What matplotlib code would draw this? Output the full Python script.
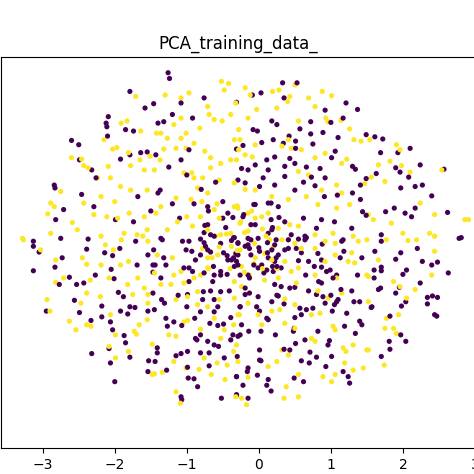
import matplotlib
matplotlib.use("Agg")
import matplotlib.pyplot as plt
import numpy as np

# PCA components (PC1, PC2), class 0 (dark)
class0 = [
    (-1.26, 2.32), (-1.24, 2.24), (-1.79, 2.06), (-1.46, 1.89), (-1.58, 1.83), (-1.08, 1.90), (-0.76, 1.97),
    (-2.09, 1.71), (-2.12, 1.62), (-2.11, 1.57), (-2.10, 1.44), (-1.85, 1.53), (-1.74, 1.51), (-1.40, 1.62),
    (-1.32, 1.64), (-1.20, 1.74), (-0.92, 1.69), (-2.60, 1.38), (-2.50, 1.32), (-2.49, 1.11), (-2.32, 0.97),
    (-2.26, 0.86), (-1.92, 1.12), (-1.79, 1.18), (-1.64, 1.21), (-1.55, 1.22), (-1.43, 1.18), (-1.25, 1.01),
    (-1.08, 1.11), (-0.97, 1.25), (-2.84, 0.76), (-2.83, 0.72), (-2.46, 0.63), (-2.29, 0.46), (-2.71, 0.42),
    (-2.82, 0.28), (-1.99, 0.28), (-1.74, 0.25), (-1.68, 0.60), (-1.40, 0.65), (-1.37, 0.69),
    (-1.0, 0.9), (-0.8, 0.7), (-0.9, 0.5), (-0.7, 0.4), (-0.6, 0.8), (-1.2, 0.5), (-1.5, 0.4), (-1.1, 0.3),
    (-0.75, 0.2), (-0.5, 0.3),
    (0.33, 2.18), (0.53, 2.18), (-0.09, 2.01), (0.03, 2.04), (0.35, 1.97), (-0.31, 1.91), (1.21, 1.90),
    (1.37, 1.81), (0.92, 1.80), (1.00, 1.63), (1.17, 1.69), (0.72, 1.64), (0.18, 1.65), (0.25, 1.60),
    (-0.08, 1.53), (-0.02, 1.51), (0.57, 1.54), (0.72, 1.47), (0.89, 1.49), (1.49, 1.46), (1.61, 1.43),
    (1.72, 1.40), (1.10, 1.42), (0.42, 1.44), (0.51, 1.37), (0.34, 1.34), (0.20, 1.39), (0.04, 1.35),
    (-0.22, 1.31), (-0.31, 1.26), (0.75, 1.33), (0.51, 1.27), (1.06, 1.23), (1.01, 1.14), (1.69, 1.21),
    (1.93, 1.21), (2.10, 1.27), (2.57, 0.98), (2.24, 1.04), (1.90, 1.00), (1.96, 0.94), (2.08, 0.87),
    (1.30, 1.02), (1.34, 0.98), (1.63, 0.92), (1.49, 0.85), (1.41, 0.76), (1.97, 0.72), (2.17, 0.74),
    (2.27, 0.76), (2.40, 0.61), (2.62, 0.38), (2.81, 0.03), (0.43, 1.13), (0.50, 1.06), (0.22, 1.15),
    (0.11, 1.11), (0.13, 0.97), (-0.05, 1.04), (-0.15, 0.97), (-0.24, 0.99), (0.36, 1.02), (0.66, 1.01),
    (0.85, 0.99), (0.73, 0.87), (0.92, 0.86), (0.62, 0.80), (0.36, 0.88), (0.06, 0.86), (-0.29, 0.83),
    (-0.19, 0.79), (0.01, 0.74), (0.22, 0.76), (0.50, 0.69), (0.78, 0.75), (0.91, 0.60), (1.09, 0.62),
    (1.30, 0.65), (1.41, 0.56), (1.44, 0.39), (1.49, 0.34), (1.76, 0.39), (1.88, 0.44), (2.03, 0.37),
    (2.17, 0.44), (2.12, 0.32), (1.70, 0.07), (1.29, 0.16), (1.05, 0.25), (0.87, 0.28), (0.80, 0.16),
    (0.62, 0.30), (0.36, 0.25), (0.27, 0.46), (0.13, 0.51), (-0.05, 0.49), (-0.22, 0.32), (-0.05, 0.21),
    (0.18, 0.14), (0.64, 0.05), (0.45, 0.07), (0.13, 0.09),
    (-3.13, -0.02), (-3.13, -0.09), (-3.05, -0.17), (-3.13, -0.43), (-2.75, 0.02), (-2.37, 0.01),
    (-2.39, -0.13), (-2.73, -0.25), (-2.83, -0.38), (-2.63, -0.52), (-2.77, -0.62), (-2.53, -0.62),
    (-2.43, -0.60), (-2.27, -0.49), (-2.56, -0.84), (-2.49, -1.01), (-2.95, -0.99), (-2.33, -1.12),
    (-2.32, -1.58), (-2.18, -0.92), (-2.18, -1.07), (-2.06, -1.14), (-2.03, -1.25), (-2.06, -1.71),
    (-2.08, -1.51), (-2.00, -1.97), (-1.87, -1.33), (-1.85, -1.43), (-1.79, -1.63), (-1.95, -0.73),
    (-1.88, -0.79), (-1.79, -0.93), (-1.72, -0.94), (-1.82, -1.03), (-1.92, -0.99), (-2.14, -0.18),
    (-2.03, -0.22), (-2.05, -0.41), (-2.01, -0.54), (-1.93, -0.12), (-1.69, -0.35), (-1.71, -0.02),
    (-1.54, -0.21), (-1.46, -0.14), (-1.47, -0.35), (-1.44, -0.35), (-1.47, -0.45), (-1.36, -0.53),
    (-1.32, -0.25), (-1.29, -0.35), (-1.47, -0.74), (-1.35, -0.83), (-1.31, -0.88), (-1.45, -0.97),
    (-1.34, 0.00), (-1.36, 0.02), (-1.54, -0.99), (-1.41, -1.50), (-1.53, -1.68), (-1.54, -1.83),
    (-1.44, -1.69), (-1.28, -1.81), (-1.41, -1.57), (-1.29, -1.09), (-1.27, -1.20), (-1.18, -1.14),
    (-1.07, -1.19), (-1.12, -0.77), (-0.99, -0.76), (-1.00, -0.93), (-0.88, -1.37), (-0.86, -1.39),
    (-1.15, -1.61), (-1.08, -1.58), (-0.99, -1.55), (-0.99, -1.77), (-0.98, -1.92), (-0.90, -1.93),
    (-0.85, -2.04), (-1.08, -2.18), (-1.07, -2.22), (-0.81, -1.57), (-0.69, -1.57), (-0.69, -1.75),
    (-0.52, -2.20), (-0.31, -1.90), (-0.31, -2.16), (-0.48, -1.64), (-0.56, -1.48), (-0.39, -1.39),
    (-0.36, -1.32), (-0.62, -1.46), (-0.71, -1.41), (-0.81, -1.32), (-0.89, -1.09), (-0.81, -1.00),
    (-0.68, -1.16), (-0.57, -1.19), (-0.49, -1.17), (-0.39, -1.08), (-0.62, -1.00), (-0.57, -0.93),
    (-0.62, -0.83), (-0.78, -0.83), (-0.77, -0.72), (-0.67, -0.71), (-0.53, -0.72), (-0.41, -0.71),
    (-0.97, -0.58), (-1.04, -0.39), (-0.97, -0.39), (-0.92, -0.44), (-0.88, -0.28), (-0.81, -0.21),
    (-1.01, -0.14), (-0.93, -0.16), (-0.97, -0.02), (-1.06, -0.02), (-0.81, 0.01), (-0.74, -0.09),
    (-0.67, -0.17), (-0.64, -0.58), (-0.62, -0.49), (-0.53, -0.44), (-0.44, -0.48), (-0.34, -0.37),
    (-0.38, -0.28), (-0.44, -0.22), (-0.32, -0.19), (-0.29, -0.05), (-0.38, -0.01), (-0.34, 0.03),
    (-0.53, -0.05), (-0.62, 0.05), (-0.26, -0.93),
    (2.78, 0.02), (2.63, -0.46), (2.47, -1.06), (2.44, -1.04), (2.34, -0.80), (2.41, -0.78), (2.48, -0.80),
    (2.34, -0.89), (2.40, -0.35), (2.48, -0.31), (2.27, -0.30), (2.20, -0.12), (2.24, -0.60), (2.04, -0.86),
    (1.98, -0.92), (1.90, -0.74), (1.95, -0.66), (2.05, -0.42), (2.00, -0.48), (1.97, -0.18), (1.90, -0.27),
    (1.82, -1.06), (1.97, -1.32), (2.04, -1.41), (1.81, -1.41), (1.82, -1.52), (1.70, -1.62), (1.70, -0.02),
    (1.70, -0.38), (1.70, -0.43), (1.60, -0.53), (1.60, -0.42), (1.61, -0.16), (1.69, -0.67), (1.66, -0.69),
    (1.57, -0.93), (1.56, -0.94), (1.43, -0.25), (1.37, -0.49), (1.40, -0.86), (1.43, -1.18), (1.40, -1.13),
    (1.29, -0.71), (1.32, -0.86), (1.22, -1.02), (1.34, -1.30), (1.19, -1.20), (1.13, -0.25), (1.18, -0.16),
    (1.15, -0.02), (1.17, 0.00), (1.14, -0.69), (1.08, -0.86), (1.05, -0.90), (1.10, -0.83), (1.02, -0.99),
    (1.00, -0.77), (1.03, -0.53), (0.94, -0.44), (0.99, -0.42), (1.08, -0.49), (0.87, -0.60), (0.83, -0.58),
    (0.77, -0.37), (0.87, -0.38), (0.87, -0.28), (0.82, -0.19), (0.88, -0.06), (0.92, -0.88), (0.96, -1.46),
    (1.01, -1.62), (0.93, -1.76), (1.17, -1.83), (1.24, -1.90), (1.26, -1.99), (0.98, -1.40), (0.82, -1.27),
    (0.80, -1.63), (0.71, -1.56), (0.70, -1.71), (0.64, -1.39), (0.59, -1.68), (0.62, -1.97), (0.49, -1.92),
    (0.51, -1.44), (0.43, -1.53), (0.35, -1.52), (0.49, -1.23), (0.48, -1.27), (0.50, -1.08), (0.59, -1.04),
    (0.57, -0.95), (0.66, -0.97), (0.69, -0.71), (0.80, -0.76), (0.89, -0.79), (0.75, -0.95), (0.65, -0.49),
    (0.69, -0.30), (0.55, -0.29), (0.59, -0.18), (0.52, -0.12), (0.64, 0.00), (0.36, -0.14), (0.41, -0.12),
    (0.27, -0.21), (0.22, -0.30), (0.25, -0.37), (0.31, -0.39), (0.20, -0.44), (0.22, -0.62), (0.31, -0.65),
    (0.43, -0.67), (0.50, -0.66), (0.35, -0.89), (0.27, -0.78), (0.25, -0.77), (0.18, -0.86), (0.13, -1.11),
    (0.11, -1.09), (0.01, -0.99), (-0.03, -0.93), (-0.01, -0.79), (-0.13, -0.74), (-0.19, -0.76),
    (-0.26, -0.93), (-0.24, -1.18), (-0.26, -1.32), (-0.14, -1.27), (0.03, -1.27), (0.23, -1.32),
    (0.01, -1.53), (0.03, -1.68), (0.01, -1.67), (-0.15, -1.78), (-0.16, -1.83), (-0.02, -1.88),
    (0.13, -1.94), (0.17, -2.10), (0.11, -2.02), (-0.22, -2.02), (-0.31, -2.15), (-0.15, -2.20),
    (-0.31, -1.90), (-0.30, -1.62), (-0.29, -1.34), (-0.13, -0.53), (-0.19, -0.67), (-0.26, -0.49),
    (-0.01, -0.39), (0.04, -0.35), (0.11, -0.42), (0.13, -0.25), (0.18, -0.14), (0.22, -0.07), (0.01, -0.16),
    (-0.13, -0.12), (-0.19, -0.09), (-0.29, -0.21), (-0.31, -0.30), (-0.15, 0.02), (-0.01, 0.02),
    (0.41, 0.00), (0.55, 0.01), (0.66, 0.03),
    # dense centre
    (-0.71, 0.46), (-0.50, 0.53), (-0.07, 0.49), (0.17, 0.51), (-0.43, 0.37), (-0.36, 0.31), (-0.21, 0.35),
    (0.17, 0.28), (0.28, 0.31), (-0.71, 0.21), (-0.46, 0.17), (-0.11, 0.21), (0.19, 0.17), (-0.76, 0.10),
    (-0.67, 0.07), (-0.35, 0.03), (-0.29, -0.04), (-0.15, -0.07), (-0.11, 0.00), (0.00, -0.11), (0.12, -0.04),
    (0.24, 0.00), (-0.76, -0.04), (-0.71, -0.14), (-0.49, -0.18), (-0.43, -0.28), (-0.35, -0.25),
    (-0.11, -0.21), (0.12, -0.18), (0.24, -0.25), (-0.63, -0.37), (-0.29, -0.35), (-0.07, -0.35),
    (0.19, -0.37), (-0.76, -0.46), (-0.53, -0.49), (-0.15, -0.49), (0.07, -0.46),
]

# class 1 (yellow)
class1 = [
    (-0.52, 2.20), (-0.42, 2.17), (-0.48, 2.08), (-0.97, 2.04), (-1.08, 1.97), (-1.30, 2.01), (-1.71, 1.99),
    (-0.71, 1.85), (-0.69, 1.74), (-0.62, 1.67), (-0.51, 1.65), (-0.39, 1.74), (-0.32, 1.90), (-1.83, 1.65),
    (-1.91, 1.62), (-1.64, 1.51), (-1.42, 1.48), (-1.36, 1.48), (-1.18, 1.60), (-1.08, 1.69), (-0.82, 1.55),
    (-1.01, 1.48), (-1.27, 1.41), (-1.08, 1.41), (-2.03, 1.26), (-1.97, 1.28), (-2.15, 1.39), (-2.60, 1.14),
    (-2.46, 1.12), (-2.37, 1.00), (-2.43, 1.03), (-2.09, 1.02), (-1.81, 1.21), (-1.65, 1.11), (-1.51, 1.16),
    (-1.78, 1.03), (-1.59, 0.97), (-1.32, 1.26), (-1.37, 1.11), (-1.45, 0.97), (-1.15, 1.27), (-1.01, 1.27),
    (-0.90, 1.34), (-1.04, 0.93), (-0.93, 0.93), (-0.90, 0.86), (-0.78, 0.86), (-0.67, 1.00), (-0.53, 1.06),
    (-0.39, 1.11), (-0.34, 1.39), (-0.28, 1.25), (-0.67, 1.14), (-0.75, 1.23), (-2.24, 0.86), (-2.06, 0.86),
    (-1.92, 0.74), (-1.78, 0.69), (-1.55, 0.69), (-2.00, 0.53), (-2.19, 0.60), (-2.75, 0.67), (-2.89, 0.51),
    (-2.84, 0.46), (-2.93, 0.36), (-2.43, 0.51), (-2.59, 0.24), (-2.29, 0.35), (-2.11, 0.32), (-1.96, 0.30),
    (-1.80, 0.37), (-1.59, 0.32), (-1.43, 0.37), (-1.36, 0.46), (-1.15, 0.58), (-0.94, 0.56), (-0.85, 0.72),
    (-0.71, 0.65), (-0.55, 0.83), (-0.34, 0.79), (-0.34, 0.46), (-0.62, 0.42), (-0.81, 0.32), (-1.00, 0.32),
    (-0.92, 0.19), (-1.13, 0.25), (-1.27, 0.14), (-1.55, 0.14), (-1.69, 0.07), (-1.87, 0.09), (-2.19, 0.05),
    (-2.52, 0.14), (-2.89, 0.09), (-3.28, 0.02), (-0.39, 0.09), (-0.53, 0.07), (-0.71, 0.14),
    (-0.19, 2.11), (-0.12, 2.01), (0.19, 2.06), (0.28, 2.08), (0.43, 1.99), (0.40, 1.92), (0.50, 2.15),
    (0.69, 1.97), (0.88, 2.06), (1.01, 2.00), (0.78, 1.85), (0.93, 1.69), (0.96, 1.64), (1.14, 1.66),
    (1.26, 1.54), (1.32, 1.39), (1.42, 1.37), (1.54, 1.39), (1.91, 1.32), (1.96, 1.25), (1.82, 1.09),
    (1.98, 1.03), (2.54, 0.97), (2.10, 0.94), (1.66, 1.04), (1.75, 0.81), (1.47, 0.78), (1.56, 0.87),
    (1.22, 1.12), (1.15, 1.06), (1.08, 0.76), (0.92, 1.20), (0.78, 1.14), (0.59, 1.25), (0.45, 1.27),
    (0.55, 0.95), (0.69, 0.90), (0.41, 1.39), (0.32, 1.30), (-0.05, 1.32), (-0.26, 1.39), (-0.15, 1.69),
    (-0.03, 1.81), (0.25, 1.83), (0.55, 1.65), (-0.28, 1.53), (-0.19, 1.18), (-0.09, 1.15), (-0.31, 1.11),
    (-0.19, 0.70), (-0.05, 0.69), (0.18, 0.60), (0.41, 0.56), (0.66, 0.60), (0.82, 0.49), (0.87, 0.69),
    (1.08, 0.44), (1.26, 0.49), (1.15, 0.65), (1.52, 0.35), (1.59, 0.28), (1.84, 0.23), (2.00, 0.09),
    (2.24, 0.51), (2.44, 0.35), (2.37, 0.09), (2.44, 0.05), (2.86, 0.28), (2.91, 0.28), (1.31, 0.05),
    (1.03, 0.09), (0.78, 0.07), (0.55, 0.19), (0.13, 0.37), (0.04, 0.32), (-0.15, 0.37), (-0.29, 0.44),
    (-0.26, 0.23), (-0.15, 0.12), (0.27, 0.16), (0.43, 0.21),
    (-3.27, 0.00), (-3.03, -0.14), (-2.82, -0.28), (-2.71, -0.53), (-2.82, -0.59), (-2.94, -0.83),
    (-2.90, -0.99), (-2.63, -1.13), (-2.54, -1.25), (-2.39, -1.18), (-2.33, -1.20), (-2.47, -0.88),
    (-2.39, -0.74), (-2.20, -0.79), (-2.34, -0.56), (-2.45, -0.25), (-2.39, -0.34), (-2.19, -0.35),
    (-2.08, -0.53), (-2.06, -1.04), (-1.99, -1.32), (-2.08, -1.48), (-1.99, -1.64), (-1.81, -1.55),
    (-1.70, -1.31), (-1.66, -1.18), (-1.73, -1.27), (-1.55, -1.11), (-1.48, -1.45), (-1.48, -1.87),
    (-1.45, -1.86), (-1.34, -1.84), (-1.15, -2.11), (-1.09, -2.27), (-1.01, -1.78), (-0.83, -1.80),
    (-0.66, -1.87), (-0.58, -1.71), (-0.47, -1.94), (-0.32, -2.18), (-1.18, -1.69), (-1.15, -1.34),
    (-1.25, -1.32), (-1.04, -1.14), (-0.99, -1.12), (-0.81, -1.24), (-0.76, -1.64), (-0.44, -1.74),
    (-0.35, -1.55), (-0.53, -1.37), (-0.35, -1.18), (-0.27, -1.04), (-0.71, -0.93), (-0.85, -0.90),
    (-0.99, -0.79), (-1.04, -0.60), (-1.22, -0.62), (-1.15, -0.83), (-1.54, -0.76), (-1.59, -0.67),
    (-1.68, -0.53), (-1.82, -0.62), (-1.75, -0.76), (-1.54, -0.88), (-1.92, -0.35), (-1.81, -0.30),
    (-1.91, 0.00), (-2.02, -0.14), (-2.13, -0.07), (-1.54, -0.02), (-1.61, 0.05), (-1.41, -0.21),
    (-1.20, -0.25), (-1.18, -0.49), (-1.08, -0.44), (-0.90, -0.53), (-0.81, -0.49), (-0.71, -0.39),
    (-0.78, -0.12), (-0.71, -0.25), (-0.57, -0.21), (-0.38, -0.09), (-0.34, -0.58), (-0.55, -0.83),
    (-0.34, -0.81), (-0.85, -0.72), (-1.45, -0.46), (-1.36, -0.62), (-0.62, -1.09), (-0.48, -1.25),
    (2.44, 0.05), (2.07, -0.01), (2.19, 0.00), (2.44, -0.16), (2.40, -0.49), (2.17, -0.69), (1.87, -0.58),
    (1.96, -0.65), (2.05, -0.81), (1.77, -1.09), (1.94, -1.04), (1.87, -1.23), (1.91, -1.30), (1.75, -1.23),
    (1.74, -1.74), (1.50, -1.53), (1.45, -1.78), (1.31, -1.81), (1.19, -1.71), (1.21, -1.55), (1.06, -1.87),
    (1.01, -1.97), (0.89, -1.90), (0.55, -1.87), (0.38, -2.04), (0.55, -2.18), (0.35, -2.20), (-0.17, -2.29),
    (-0.24, -2.20), (-0.15, -1.91), (-0.29, -1.69), (-0.31, -1.46), (0.13, -1.76), (0.25, -1.69),
    (0.41, -1.60), (0.32, -1.53), (0.73, -1.37), (0.78, -1.41), (1.03, -1.20), (1.06, -1.25), (1.17, -1.50),
    (1.31, -1.46), (1.52, -1.53), (1.52, -0.86), (1.50, -0.49), (1.52, -0.51), (1.24, -0.30), (1.33, -0.32),
    (1.29, -0.18), (1.38, -0.02), (1.50, 0.00), (1.66, -0.28), (1.77, 0.00), (1.08, -0.53), (1.15, -0.74),
    (0.96, -0.81), (0.85, -1.02), (0.73, -1.04), (0.50, -0.90), (0.36, -0.82), (0.29, -0.97), (0.18, -0.99),
    (-0.01, -1.04), (0.04, -1.18), (0.36, -1.16), (0.50, -1.23), (-0.29, -1.04), (-0.15, -0.88),
    (-0.24, -0.65), (-0.13, -0.49), (0.08, -0.56), (0.27, -0.53), (0.45, -0.44), (0.55, -0.39), (0.52, -0.60),
    (0.78, -0.49), (0.82, -0.71), (0.92, -0.30), (1.06, -0.21), (0.78, -0.12), (0.59, -0.12), (0.36, -0.30),
    (0.18, -0.28), (0.08, -0.19), (-0.07, -0.33), (-0.24, -0.37), (-0.26, -0.14), (-0.06, -0.05),
    (0.15, 0.00), (0.32, 0.00), (0.50, -0.05), (0.92, -0.02), (1.06, -0.05),
    # dense centre
    (-0.79, 0.53), (-0.58, 0.50), (-0.30, 0.47), (-0.10, 0.40), (-0.55, 0.30), (-0.25, 0.25), (-0.05, 0.30),
    (0.05, 0.15), (-0.60, 0.05), (-0.45, 0.08), (-0.20, 0.10), (0.10, 0.05), (-0.55, -0.10), (-0.30, -0.15),
    (-0.05, -0.25), (0.20, -0.10), (-0.65, -0.25), (-0.20, -0.45), (0.05, -0.40), (-0.40, -0.40),
    (0.25, -0.40), (-0.70, -0.40),
]

x0, y0 = np.array(class0).T
x1, y1 = np.array(class1).T
pc1 = np.concatenate([x0, x1])
pc2 = np.concatenate([y0, y1])
labels = np.concatenate([np.zeros(len(x0)), np.ones(len(x1))])

# interleave draw order so neither class sits fully on top
order = np.argsort((np.arange(len(pc1)) * 7919) % len(pc1))
pc1, pc2, labels = pc1[order], pc2[order], labels[order]

fig = plt.figure(figsize=(4.74, 4.74), dpi=100)
ax = fig.add_axes([0.002, 0.055, 1.0, 0.825])
ax.scatter(pc1, pc2, c=labels, cmap="viridis", s=14, linewidths=0)
ax.set_xlim(-3.58, 3.0)
ax.set_ylim(-2.89, 2.54)
ax.set_xticks([-3, -2, -1, 0, 1, 2, 3])
ax.set_yticks([])
ax.set_title("PCA_training_data_", fontsize=12)
fig.savefig("out.png", dpi=100)
